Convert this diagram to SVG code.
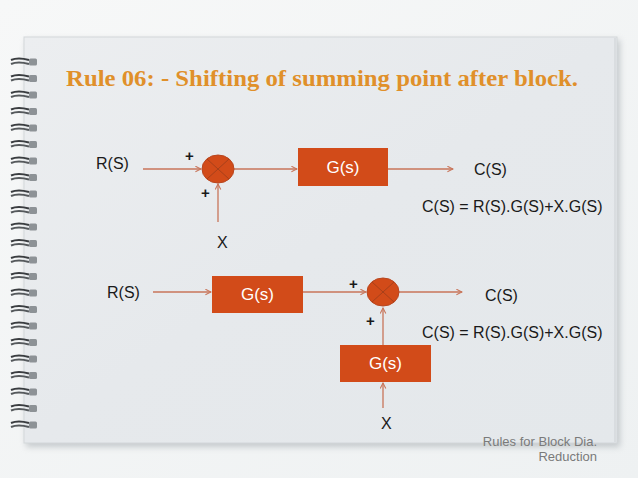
<svg xmlns="http://www.w3.org/2000/svg" width="638" height="478" viewBox="0 0 638 478">
<defs>
<linearGradient id="bg" x1="0" y1="0" x2="1" y2="1">
<stop offset="0" stop-color="#f7f8f8"/><stop offset="1" stop-color="#eef1f2"/>
</linearGradient>
<linearGradient id="page" x1="0" y1="0" x2="1" y2="1">
<stop offset="0" stop-color="#eceef0"/><stop offset="0.5" stop-color="#e6e9ec"/><stop offset="1" stop-color="#e4e8eb"/>
</linearGradient>
<filter id="sh" x="-5%" y="-5%" width="110%" height="110%"><feGaussianBlur stdDeviation="3"/></filter>
<marker id="ah" viewBox="0 0 10 10" refX="9" refY="5" markerWidth="7" markerHeight="7" markerUnits="userSpaceOnUse" orient="auto">
<path d="M1,1 L9,5 L1,9" fill="none" stroke="#c8755a" stroke-width="1.5"/>
</marker>
<g id="ring">
<path d="M11,-2 Q18,-5 29,-2" fill="none" stroke="#3a3d40" stroke-width="2"/>
<path d="M11,2 Q18,-1 29,2" fill="none" stroke="#55595c" stroke-width="2"/>
<rect x="29" y="-3.5" width="8" height="7" rx="1.5" fill="#8d9296"/>
</g>
</defs>
<style>
.box{fill:#d24b19;}
.wire{fill:none;stroke:#c8755a;stroke-width:1.3;marker-end:url(#ah);}
.sum{fill:#d24b19;stroke:#b8461f;stroke-width:1;}
.x{stroke:#a8401a;stroke-width:1;}
.lbl{font-family:"Liberation Sans",Arial,sans-serif;font-size:16px;fill:#1a1a1a;}
.gl{font-family:"Liberation Sans",Arial,sans-serif;font-size:17px;fill:#ffffff;text-anchor:middle;}
.pl{font-family:"Liberation Sans",Arial,sans-serif;font-size:15px;fill:#1a1a1a;font-weight:bold;}
.foot{font-family:"Liberation Sans",Arial,sans-serif;font-size:13px;fill:#7a7a7a;text-anchor:end;}
</style>
<rect width="638" height="478" fill="url(#bg)"/>
<rect x="26" y="40" width="594" height="407" fill="#9aa0a6" opacity="0.5" filter="url(#sh)"/>
<rect x="24" y="37" width="593" height="406" fill="url(#page)" stroke="#d3d7da" stroke-width="1"/>
<line x1="615" y1="38" x2="615" y2="442" stroke="#cdd1d4" stroke-width="1"/>
<g id="spiral">
<use href="#ring" y="62"/><use href="#ring" y="78.5"/><use href="#ring" y="95"/><use href="#ring" y="111.5"/>
<use href="#ring" y="128"/><use href="#ring" y="144.5"/><use href="#ring" y="161"/><use href="#ring" y="177.5"/>
<use href="#ring" y="194"/><use href="#ring" y="210.5"/><use href="#ring" y="227"/><use href="#ring" y="243.5"/>
<use href="#ring" y="260"/><use href="#ring" y="276.5"/><use href="#ring" y="293"/><use href="#ring" y="309.5"/>
<use href="#ring" y="326"/><use href="#ring" y="342.5"/><use href="#ring" y="359"/><use href="#ring" y="375.5"/>
<use href="#ring" y="392"/><use href="#ring" y="408.5"/><use href="#ring" y="425"/>
</g>
<text x="66" y="86" font-family="'Liberation Serif','Times New Roman',serif" font-size="23" font-weight="bold" fill="#e0902a" textLength="512" lengthAdjust="spacingAndGlyphs">Rule 06: - Shifting of summing point after block.</text>

<g id="connectors">
<line class="wire" x1="143" y1="169" x2="201" y2="169"/>
<line class="wire" x1="218" y1="222" x2="218" y2="184"/>
<line class="wire" x1="234" y1="169" x2="297" y2="169"/>
<line class="wire" x1="388" y1="169" x2="453" y2="169"/>
<line class="wire" x1="153" y1="292" x2="211" y2="292"/>
<line class="wire" x1="303" y1="292" x2="366" y2="292"/>
<line class="wire" x1="383" y1="345" x2="383" y2="308"/>
<line class="wire" x1="399" y1="292" x2="462" y2="292"/>
<line class="wire" x1="383" y1="408" x2="383" y2="383"/>
</g>

<g id="sum1">
<ellipse class="sum" cx="218" cy="169" rx="16" ry="14"/>
<line class="x" x1="207" y1="159" x2="229" y2="179"/>
<line class="x" x1="229" y1="159" x2="207" y2="179"/>
</g>
<g id="g1">
<rect class="box" x="298" y="148" width="90" height="38"/>
<text class="gl" x="343" y="173">G(s)</text>
</g>
<g id="g2">
<rect class="box" x="212" y="276" width="91" height="37"/>
<text class="gl" x="257.5" y="300">G(s)</text>
</g>
<g id="sum2">
<ellipse class="sum" cx="383" cy="292" rx="16" ry="14"/>
<line class="x" x1="372" y1="282" x2="394" y2="302"/>
<line class="x" x1="394" y1="282" x2="372" y2="302"/>
</g>
<g id="g3">
<rect class="box" x="340" y="345" width="91" height="37"/>
<text class="gl" x="385.5" y="369">G(s)</text>
</g>

<g id="labels">
<text class="lbl" x="96" y="169">R(S)</text>
<text class="pl" x="185" y="161">+</text>
<text class="pl" x="201" y="198">+</text>
<text class="lbl" x="217" y="248">X</text>
<text class="lbl" x="474" y="175">C(S)</text>
<text class="lbl" x="422" y="212">C(S) = R(S).G(S)+X.G(S)</text>
<text class="lbl" x="107" y="298">R(S)</text>
<text class="pl" x="349" y="289">+</text>
<text class="pl" x="366" y="326">+</text>
<text class="lbl" x="381" y="429">X</text>
<text class="lbl" x="485" y="301">C(S)</text>
<text class="lbl" x="422" y="338">C(S) = R(S).G(S)+X.G(S)</text>
<text class="foot" x="597" y="446">Rules for Block Dia.</text>
<text class="foot" x="597" y="461">Reduction</text>
</g>
</svg>
